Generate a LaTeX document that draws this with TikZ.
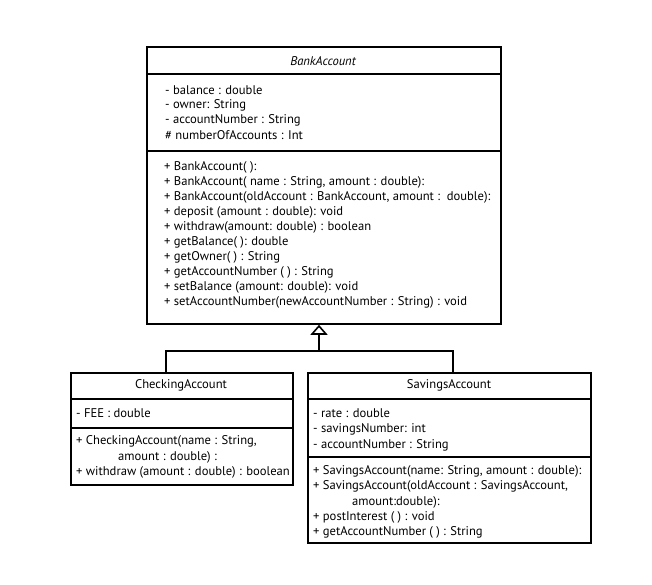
\documentclass[tikz,border=0pt]{standalone}
\usepackage{fontspec}
\setmainfont{PT Sans}
\usetikzlibrary{arrows.meta}
\begin{document}
\begin{tikzpicture}[x=1pt,y=-1pt,
  box/.style={draw,line width=1.8pt,inner sep=0pt,anchor=north west},
  sep/.style={line width=1.4pt},
  txt/.style={anchor=west,inner sep=0pt,font=\fontsize{12.6}{14}\selectfont},
  ttl/.style={anchor=center,inner sep=0pt,font=\fontsize{12.6}{14}\selectfont},
  conn/.style={line width=2pt},
  inh/.style={line width=2pt,-{Triangle[open,length=10pt,width=17pt,line width=1.6pt]}}]
\useasboundingbox (0,0) rectangle (652,585);
% BankAccount
\node[box,minimum width=354pt,minimum height=277pt] (bank) at (146,46) {};
\draw[sep] (146,74) -- (500,74);
\draw[sep] (146,151) -- (500,151);
\node[ttl] (bankT) at (323,61) {\itshape BankAccount};
\node[txt] (ba1) at (165,90) {- balance : double};
\node[txt] (ba2) at (165,105) {- owner: String};
\node[txt] (ba3) at (165,120) {- accountNumber : String};
\node[txt] (ba4) at (165,135) {\# numberOfAccounts : Int};
\node[txt] (bm1) at (164,167) {+ BankAccount( ):};
\node[txt] (bm2) at (164,182) {+ BankAccount( name : String, amount : double):};
\node[txt] (bm3) at (164,197) {+ BankAccount(oldAccount : BankAccount, amount :\ \ double):};
\node[txt] (bm4) at (164,212) {+ deposit (amount : double): void};
\node[txt] (bm5) at (164,227) {+ withdraw(amount: double) : boolean};
\node[txt] (bm6) at (164,242) {+ getBalance( ): double};
\node[txt] (bm7) at (164,257) {+ getOwner( ) : String};
\node[txt] (bm8) at (164,272) {+ getAccountNumber ( ) : String};
\node[txt] (bm9) at (164,287) {+ setBalance (amount: double): void};
\node[txt] (bm10) at (164,302) {+ setAccountNumber(newAccountNumber : String) : void};
% CheckingAccount
\node[box,minimum width=222pt,minimum height=112pt] (chk) at (70,372) {};
\draw[sep] (70,399) -- (292,399);
\draw[sep] (70,428) -- (292,428);
\node[ttl] (chkT) at (181,385) {CheckingAccount};
\node[txt] (ca1) at (76,413) {- FEE : double};
\node[txt] (cm1) at (76,441) {+ CheckingAccount(name : String,};
\node[txt] (cm2) at (118,457) {amount : double) :};
\node[txt] (cm3) at (76,472) {+ withdraw (amount : double) : boolean};
% SavingsAccount
\node[box,minimum width=283pt,minimum height=170pt] (sav) at (307,372) {};
\draw[sep] (307,399) -- (590,399);
\draw[sep] (307,457) -- (590,457);
\node[ttl] (savT) at (449,385) {SavingsAccount};
\node[txt] (sa1) at (313,413) {- rate : double};
\node[txt] (sa2) at (313,429) {- savingsNumber: int};
\node[txt] (sa3) at (313,445) {- accountNumber : String};
\node[txt] (sm1) at (313,471) {+ SavingsAccount(name: String, amount : double):};
\node[txt] (sm2) at (313,486) {+ SavingsAccount(oldAccount : SavingsAccount,};
\node[txt] (sm3) at (352,502) {amount:double):};
\node[txt] (sm4) at (313,517) {+ postInterest ( ) : void};
\node[txt] (sm5) at (313,532) {+ getAccountNumber ( ) : String};
% connectors
\coordinate (j) at (319,351);
\coordinate (cl) at (166,372);
\coordinate (cr) at (453,372);
\draw[conn] (cl) |- (j) -| (cr);
\draw[inh] (j) -- (bank.south -| j);
\end{tikzpicture}
\end{document}
